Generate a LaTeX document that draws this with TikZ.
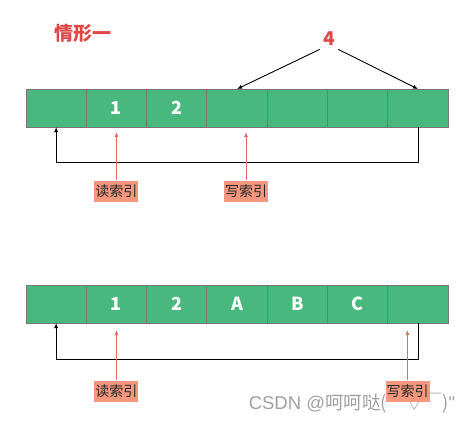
\documentclass[tikz,border=0pt]{standalone}
\usepackage{fontspec}
\setmainfont{Noto Sans CJK SC}
\newfontfamily\latinmark{Liberation Sans}
\usepackage{xcolor}
\usetikzlibrary{arrows.meta, positioning, calc}
\definecolor{cellGreen}{HTML}{48B87E}
\definecolor{cellBorder}{HTML}{767676}
\definecolor{titleRed}{HTML}{E04848}
\definecolor{tagSalmon}{HTML}{F5977F}
\definecolor{ptrRed}{HTML}{E86A6A}
\definecolor{markGray}{HTML}{A0A0A0}

\begin{document}
\begin{tikzpicture}[
  x=1pt, y=-1pt,
  every node/.style={font=\fontsize{14}{16}\selectfont},
  cell/.style={draw=cellBorder, fill=cellGreen, line width=1pt, outer sep=0pt, minimum width=60.3pt, minimum height=38pt, inner sep=0pt, text=white, font=\fontsize{18}{20}\selectfont\bfseries},
  tag/.style={fill=tagSalmon, text=black!85, inner xsep=1pt, inner ysep=1pt, minimum height=21pt},
  ptr/.style={draw=ptrRed, line width=0.9pt, -{Latex[length=5pt,width=4pt]}},
  wrap/.style={draw=black, line width=0.9pt, -{Latex[length=5pt,width=4pt]}},
  marker/.style={text=titleRed, font=\fontsize{19}{21}\selectfont\bfseries}
]
  \useasboundingbox (0,0) rectangle (474,423);

  % case one
  \node[marker] (title) at (83,33) {情形一};

  \node[cell] (t0) at (56.15,108) {};
  \foreach \i/\t [remember=\i as \prev (initially 0)] in {1/1,2/2,3/,4/,5/,6/}
    \node[cell, right=0pt of t\prev] (t\i) {\t};

  \node[marker] (four) at (329,39) {4};
  \draw[wrap] (four.south west) -- (t3.north);
  \draw[wrap] (four.south east) -- (t6.north);

  \draw[wrap] (t6.south) -- ++(0,35) -| (t0.south);

  % watermark
  \node[text=markGray, font=\fontsize{18.5}{20}\selectfont] (mark) at (352,403) {{\latinmark CSDN @}呵呵哒(￣▽￣){\latinmark "}};

  \node[tag] (rd1) at (116.45,191) {读索引};
  \node[tag] (wr1) at (246,191) {写索引};
  \draw[ptr] (rd1.north) -- ($(rd1.north |- t1.south)+(0,5)$);
  \draw[ptr] (wr1.north) -- ($(wr1.north |- t3.south)+(0,5)$);

  % case two
  \node[cell] (b0) at (56.15,304) {};
  \foreach \i/\t [remember=\i as \prev (initially 0)] in {1/1,2/2,3/A,4/B,5/C,6/}
    \node[cell, right=0pt of b\prev] (b\i) {\t};

  \draw[wrap] (b6.south) -- ++(0,36) -| (b0.south);

  \node[tag] (rd2) at (116.45,391) {读索引};
  \node[tag] (wr2) at (407.5,391) {写索引};
  \draw[ptr] (rd2.north) -- ($(rd2.north |- b1.south)+(0,7)$);
  \draw[ptr] (wr2.north) -- ($(wr2.north |- b6.south)+(0,7)$);
\end{tikzpicture}
\end{document}
